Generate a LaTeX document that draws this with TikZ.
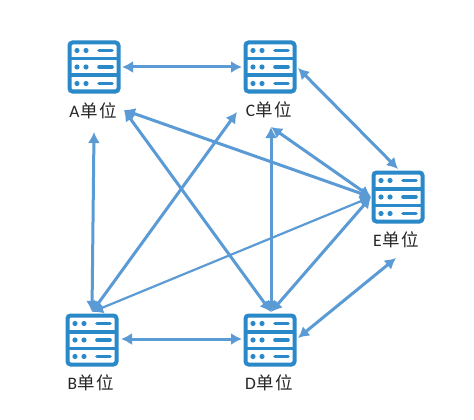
\documentclass[tikz,border=0pt]{standalone}
\usepackage{fontspec}
\setmainfont{Carlito}
\newfontfamily\cjk{Noto Sans CJK SC}
\usetikzlibrary{arrows.meta,calc}
\definecolor{srv}{HTML}{2A8AC9}
\definecolor{arr}{HTML}{5B9BD5}
\definecolor{lab}{HTML}{262626}
\tikzset{
  x=1pt,y=-1pt,
  srvframe/.style={draw=srv,line width=4pt,rounded corners=3pt,fill=white,minimum width=49pt,minimum height=49pt,inner sep=0pt,outer sep=0pt},
  srvline/.style={draw=srv,line width=3.6pt},
  srvbar/.style={draw=srv,line width=3.6pt,line cap=round},
  link/.style={draw=arr,line width=3pt,{Latex[length=11pt,width=12pt]}-{Latex[length=11pt,width=12pt]}},
  linkthin/.style={link,line width=2.2pt},
  lbl/.style={text=lab,font=\fontsize{17.5}{20}\selectfont,inner sep=0pt},
}
\newcommand{\unitlbl}[1]{#1\hspace{0.5pt}{\cjk 单\hspace{1.5pt}位}}
\newcommand{\srvicon}[3]{%
  \node[srvframe] (#1) at (#2,#3) {};
  \foreach \r in {-16.5,0,16.5}{
    \fill[srv] ($(#1.center)+(-17,\r)$) circle (2.6pt);
    \fill[srv] ($(#1.center)+(-8,\r)$) circle (2.6pt);
    \draw[srvbar] ($(#1.center)+(5,\r)$) -- ($(#1.center)+(18,\r)$);
  }
  \draw[srvline] ($(#1.center)+(-24.5,-8.3)$) -- ($(#1.center)+(24.5,-8.3)$);
  \draw[srvline] ($(#1.center)+(-24.5,8.3)$) -- ($(#1.center)+(24.5,8.3)$);
}
\begin{document}
\begin{tikzpicture}
\useasboundingbox (0,0) rectangle (474,420);
\fill[white] (0,0) rectangle (474,420);
\srvicon{A}{94}{67}
\srvicon{C}{270}{67}
\srvicon{E}{398}{197}
\srvicon{B}{92}{340}
\srvicon{D}{270}{340}
\node[lbl] (la) at (93,111) {\unitlbl{A}};
\node[lbl] (lc) at (269,110) {\unitlbl{C}};
\node[lbl] (le) at (396,240) {\unitlbl{E}};
\node[lbl] (lb) at (91,383) {\unitlbl{B}};
\node[lbl] (ld) at (269,383) {\unitlbl{D}};
\coordinate (Ar) at (122,67);
\coordinate (Cl) at (242,67);
\coordinate (Cr) at (298,68);
\coordinate (Et) at (398,169);
\coordinate (Ab) at (94,132);
\coordinate (Bt) at (92,312);
\coordinate (Al) at (124,110);
\coordinate (Dt) at (271,312);
\coordinate (El) at (371,197);
\coordinate (Cb) at (237,112);
\coordinate (Cs) at (271,127);
\coordinate (Er) at (396,258);
\coordinate (Dr) at (298,338);
\coordinate (Br) at (121,339);
\coordinate (Dl) at (242,339);
\draw[link] (Ar) -- (Cl);
\draw[link] (Cr) -- (Et);
\draw[link] (Ab) -- (Bt);
\draw[link] (Al) -- (Dt);
\draw[link] (Al) -- (El);
\draw[link] (Cb) -- (Bt);
\draw[linkthin] (Bt) -- (El);
\draw[link] (Cs) -- (Dt);
\draw[link] (Cs) -- (El);
\draw[link] (Dt) -- (El);
\draw[link] (Dr) -- (Er);
\draw[link] (Br) -- (Dl);
\end{tikzpicture}
\end{document}
